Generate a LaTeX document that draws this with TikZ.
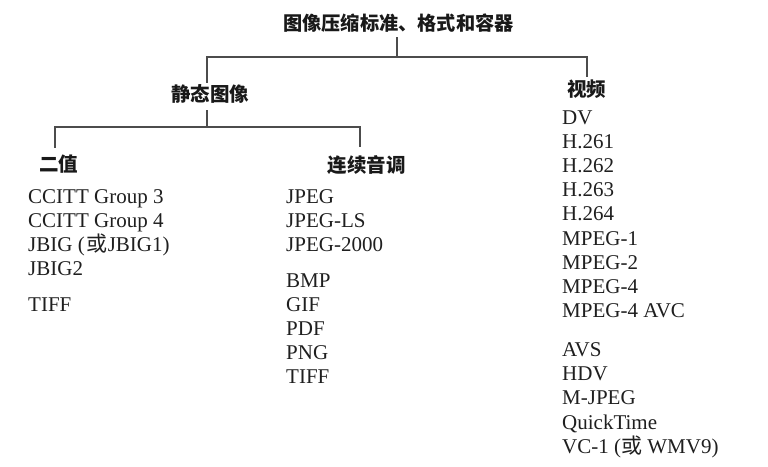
\documentclass[tikz,border=0pt]{standalone}
\usepackage{fontspec}
\setmainfont{Liberation Serif}
\newfontfamily\cjk{Noto Sans CJK SC}
\begin{document}
\begin{tikzpicture}[x=1pt,y=-1pt,
  head/.style={font=\cjk\bfseries\fontsize{19.5}{20}\selectfont, inner sep=0pt, text height=16pt, text depth=2pt, text=black!90},
  item/.style={font=\fontsize{21}{22}\selectfont, anchor=base west, inner sep=0pt, text=black!88},
  link/.style={draw=black!70, line width=1.2pt}]
\useasboundingbox (0,0) rectangle (768,466);
% headings
\node[head, font=\cjk\bfseries\fontsize{19.2}{20}\selectfont] (t) at (398.5,23.5) {图像压缩标准、格式和容器};
\node[head] (s) at (210,94) {静态图像};
\node[head] (v) at (586.5,89.5) {视频};
\node[head] (b) at (58.5,164.5) {二值};
\node[head] (c) at (366.5,165) {连续音调};
% junctions
\coordinate (j1) at (397,57);
\coordinate (j2) at (207,127);
% connectors
\draw[link, shorten <=4.5pt] ([xshift=-1.5pt]t.south) -- (j1);
\draw[link] ([xshift=-3pt,yshift=2pt]s.north) |- (j1) -| ([xshift=0.5pt,yshift=3.5pt]v.north);
\draw[link, shorten <=7pt] ([xshift=-3pt]s.south) -- (j2);
\draw[link] ([xshift=-3.5pt,yshift=7.5pt]b.north) |- (j2) -| ([xshift=-6.5pt,yshift=9pt]c.north);
% binary list
\node[item] (b1) at (28,203) {CCITT Group 3};
\node[item] (b2) at (28,227) {CCITT Group 4};
\node[item] (b3) at (28,251) {JBIG (\hspace{2pt}{\cjk 或}JBIG1)};
\node[item] (b4) at (28,275) {JBIG2};
\node[item] (b5) at (28,311) {TIFF};
% continuous-tone list
\node[item] (c1) at (286,203) {JPEG};
\node[item] (c2) at (286,227) {JPEG-LS};
\node[item] (c3) at (286,251) {JPEG-2000};
\node[item] (c4) at (286,287) {BMP};
\node[item] (c5) at (286,311) {GIF};
\node[item] (c6) at (286,335) {PDF};
\node[item] (c7) at (286,359) {PNG};
\node[item] (c8) at (286,383) {TIFF};
% video list
\node[item] (v1) at (562,124) {DV};
\node[item] (v2) at (562,148) {H.261};
\node[item] (v3) at (562,172) {H.262};
\node[item] (v4) at (562,196) {H.263};
\node[item] (v5) at (562,220) {H.264};
\node[item] (v6) at (562,245) {MPEG-1};
\node[item] (v7) at (562,269) {MPEG-2};
\node[item] (v8) at (562,293) {MPEG-4};
\node[item] (v9) at (562,317) {MPEG-4 AVC};
\node[item] (v10) at (562,356) {AVS};
\node[item] (v11) at (562,380) {HDV};
\node[item] (v12) at (562,404) {M-JPEG};
\node[item] (v13) at (562,429) {QuickTime};
\node[item] (v14) at (562,453) {VC-1 ({\cjk 或} WMV9)};
\end{tikzpicture}
\end{document}
